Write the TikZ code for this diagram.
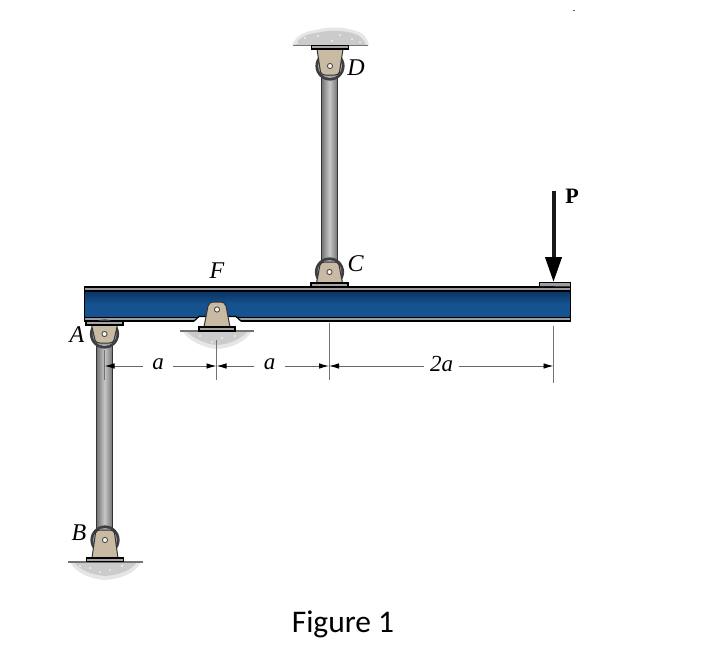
\documentclass[tikz,border=0pt]{standalone}
\usepackage{fontspec}
\setmainfont{Liberation Serif}
\newfontfamily\figfont{Carlito}
\usetikzlibrary{arrows.meta}
\definecolor{tanc}{HTML}{C9BBA3}
\definecolor{rimc}{HTML}{3E3E42}
\definecolor{rimin}{HTML}{A6A6AA}
\definecolor{groundc}{HTML}{CBCBCB}
\definecolor{groundl}{HTML}{E6E6E6}
\definecolor{flangec}{HTML}{9A9DA3}
\definecolor{beamtop}{HTML}{0B3566}
\definecolor{beammid}{HTML}{15528F}
\tikzset{
 lbl/.style={font=\fontsize{24}{24}\selectfont\itshape,inner sep=0pt},
 dimlbl/.style={font=\fontsize{23}{23}\selectfont\itshape,inner sep=0pt,fill=white},
 extline/.style={draw=black!55,line width=.9pt},
 dimline/.style={draw=black!60,line width=.9pt,-{Latex[length=10pt,width=5.5pt,black]}},
 tanshape/.style={fill=tanc,draw=black!80,line width=1pt},
 plate/.style={fill=black!35,draw=black,line width=1.1pt},
 groundline/.style={draw=black!55,line width=1.2pt},
 groundfill/.style={fill=groundc,draw=none},
 groundhalo/.style={fill=groundl,draw=none},
 rod/.style={left color=black!55,right color=black!55,middle color=black!22,draw=black!80,line width=.8pt},
 pinhole/.style={fill=white!85!tanc,draw=black!70,line width=.9pt},
 flange/.style={fill=flangec,draw=black,line width=1pt},
}
% x, y of pin; direction to plate (1 down, -1 up); distance pin to plate; distance pin to far side of lug
\newcommand{\clevisdraw}[5]{%
 \begin{scope}[shift={(#1,#2)},yscale=#3]
  \fill[rimc] (0,0) circle (14.6);
  \fill[rimin] (0,0) circle (12);
  \draw[tanshape] (-13,#4) -- (-9.5,{-#5+3}) .. controls (-9,{-#5+1}) and (-7,-#5) .. (-5,-#5) -- (5,-#5) .. controls (7,-#5) and (9,{-#5+1}) .. (9.5,{-#5+3}) -- (13,#4) -- cycle;
  \draw[plate] (-18.5,#4) rectangle (18.5,{#4+3.5});
  \draw[pinhole] (0,0) circle (2.6);
 \end{scope}}
\begin{document}
\begin{tikzpicture}[x=1pt,y=-1pt]
\useasboundingbox (0,0) rectangle (712,645);
\fill[white] (0,0) rectangle (712,645);
\fill[black!60] (573,9.5) rectangle (574.5,11);

% grounds
\fill[groundhalo] (292,45) .. controls (296,35) and (306,31) .. (316,30) .. controls (328,26) and (345,27) .. (356,31) .. controls (364,33) and (367,38) .. (369,45) -- cycle;
\fill[groundfill] (295,45) .. controls (299,38) and (306,34) .. (316,33) .. controls (328,30) and (345,30) .. (355,34) .. controls (361,36) and (364,40) .. (366,45) -- cycle;
\draw[groundline] (293,45.5) -- (368,45.5);
\fill[groundhalo] (182,331) .. controls (190,342) and (205,348) .. (217,349) .. controls (232,348) and (245,342) .. (252,331) -- cycle;
\fill[groundfill] (186,331) .. controls (194,339) and (206,344) .. (217,345) .. controls (230,344) and (241,339) .. (248,331) -- cycle;
\draw[groundline] (180,331) -- (254,331);
\fill[groundhalo] (70,562) .. controls (76,574) and (92,579) .. (105,580) .. controls (120,579) and (135,574) .. (141,562) -- cycle;
\fill[groundfill] (74,562) .. controls (80,571) and (94,575) .. (105,576) .. controls (118,575) and (131,571) .. (137,562) -- cycle;
\draw[groundline] (68,562) -- (143,562);
\foreach \sx/\sy in {305/38,318/36,340/35,352/39,332/41,297/43,360/42,200/336,222/338,235/336,212/342,90/568,110/570,122/566,100/572,80/566}
  \fill[white] (\sx,\sy) circle (.8);

% rods
\draw[rod] (321.5,70) rectangle (337.5,265);
\draw[rod] (96.5,340) rectangle (112.5,535);

% beam
\draw[fill=black,draw=black,line width=1pt] (84.5,286.5) rectangle (570,321);
\fill[top color=beamtop,bottom color=beammid,middle color=beammid] (85,292) rectangle (569.5,316);
\fill[flangec] (85,287.5) rectangle (569.5,290);
\fill[flangec] (85,317.5) rectangle (569.5,319.5);
\draw[flange] (539.5,286) -- (539.5,282.5) -- (570,282.5) -- (570,286.5);
% notch around F
\fill[white] (194,322) -- (199,316.5) -- (236,316.5) -- (241,322) -- cycle;
\draw[black,line width=1.2pt] (194,321) -- (199,316.5) -- (236,316.5) -- (241,321);

% clevises
\clevisdraw{330}{66}{-1}{17}{9}
\clevisdraw{329.5}{272}{1}{11}{10}
\clevisdraw{104.5}{334}{-1}{9}{9}
\clevisdraw{105}{540}{1}{18}{10}

% F lug
\draw[tanshape] (204,327) -- (208,306) .. controls (209,303) and (211,302) .. (213,302) -- (221,302) .. controls (223,302) and (225,303) .. (226,306) -- (230,327) -- cycle;
\draw[plate] (199,327) rectangle (235,331);
\draw[pinhole] (217,309.5) circle (2.6);

% load
\coordinate (ptail) at (553.5,191);
\coordinate (ptip) at (553.5,282);
\draw[line width=4pt,black!90,-{Triangle[length=25pt,width=16pt,black]}] (ptail) -- (ptip);
\node[font=\fontsize{22}{22}\selectfont\bfseries,inner sep=0pt] (pl) at (572,196) {P};

% letters
\node[lbl] (la) at (77,335) {A};
\node[lbl] (lb) at (79,533) {B};
\node[lbl] (lc) at (355.5,264) {C};
\node[lbl] (ld) at (356,68) {D};
\node[lbl] (lf) at (217,271) {F};

% extension lines
\coordinate (e1t) at (104.5,350); \coordinate (e1b) at (104.5,380);
\coordinate (e2t) at (216.5,340); \coordinate (e2b) at (216.5,380);
\coordinate (e3t) at (329,323);   \coordinate (e3b) at (329,380);
\coordinate (e4t) at (553.5,326); \coordinate (e4b) at (553.5,383);
\draw[extline] (e1t) -- (e1b);
\draw[extline] (e2t) -- (e2b);
\draw[extline] (e3t) -- (e3b);
\draw[extline] (e4t) -- (e4b);
\coordinate (d1) at (104.5,366); \coordinate (d2) at (216.5,366);
\coordinate (d3) at (329,366);   \coordinate (d4) at (553.5,366);

% dimensions
\node[dimlbl,minimum width=30pt] (a1) at (158,364) {a};
\node[dimlbl,minimum width=30pt] (a2) at (269.5,364) {a};
\node[dimlbl,minimum width=34pt] (a3) at (441.5,364) {2a};
\draw[dimline] (a1.west |- d1) -- (d1);
\draw[dimline] (a1.east |- d1) -- (d2);
\draw[dimline] (a2.west |- d1) -- (d2);
\draw[dimline] (a2.east |- d1) -- (d3);
\draw[dimline] (a3.west |- d1) -- (d3);
\draw[dimline] (a3.east |- d1) -- (d4);

\node[font=\figfont\fontsize{31.5}{31.5}\selectfont,inner sep=0pt] (cap) at (343,624) {Figure 1};
\end{tikzpicture}
\end{document}
